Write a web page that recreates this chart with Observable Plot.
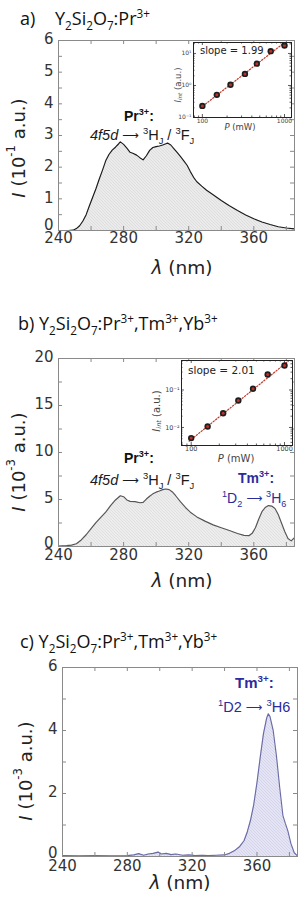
<!DOCTYPE html>
<html><head><meta charset="utf-8">
<script src="https://cdn.jsdelivr.net/npm/d3@7"></script>
<script src="https://cdn.jsdelivr.net/npm/@observablehq/plot@0.6"></script>
<style>
body{margin:0;background:#fff}
#wrap{position:relative;width:304px;height:903px;overflow:hidden;background:#fff}
#wrap svg{position:absolute;left:0;top:0}
</style></head><body><div id="wrap"></div>
<script>
// ---------- data ----------
const lamA = [240,246,249,251,253,255,257,259,261,263,265,267,269,271,273,275,277,278,280,282,284,286,288,290,292,294,296,298,300,302,304,306,307,309,311,313,315,317,319,321,323,325,328,331,335,340,345,350,355,360,365,370,375,380,385];
const intA = [0,0,0.01,0.06,0.15,0.3,0.5,0.78,1.05,1.32,1.62,1.9,2.2,2.4,2.54,2.63,2.74,2.8,2.72,2.6,2.47,2.43,2.38,2.3,2.23,2.36,2.53,2.62,2.65,2.67,2.7,2.74,2.76,2.7,2.58,2.46,2.33,2.2,2.06,1.86,1.68,1.54,1.4,1.27,1.13,0.95,0.78,0.63,0.49,0.37,0.27,0.19,0.12,0.08,0.05];
const lamB = [240,245,248,251,254,257,260,263,266,269,272,275,278,280,282,284,287,290,292,294,296,298,300,302,304,306,308,310,312,315,318,321,325,330,335,340,345,350,354,357,359,361,363,365,367,369,371,373,375,377,379,381,383,385];
const intB = [0.05,0.1,0.15,0.3,0.7,1.25,1.9,2.55,3.1,3.65,4.35,4.95,5.4,5.3,4.95,4.8,4.78,4.65,4.7,5.05,5.35,5.6,5.78,5.9,6.05,6.12,6.05,5.8,5.4,4.75,4.15,3.65,3.15,2.7,2.3,2.0,1.7,1.38,1.18,1.15,1.4,2.0,2.9,3.7,4.15,4.35,4.3,4.05,3.4,2.5,1.6,0.85,0.6,0.95];
const lamC = [240,250,260,270,280,284,287,290,293,296,299,301,304,307,310,314,318,322,326,330,335,340,343,346,349,352,354,356,358,360,362,364,366,367,368,370,372,374,376,377.5,379,381,383,385];
const intC = [0.03,0.02,0.03,0.02,0.03,0.05,0.09,0.04,0.08,0.1,0.14,0.08,0.1,0.06,0.08,0.04,0.05,0.03,0.04,0.03,0.04,0.05,0.1,0.18,0.3,0.5,0.78,1.15,1.65,2.35,3.15,3.9,4.4,4.53,4.45,4.0,3.2,2.2,1.3,1.05,0.82,0.4,0.12,0.02];

const powerA = [100,150,220,330,460,680,1000];
const intIntA = [0.23,0.51,1.05,2.3,4.8,11.8,17.8];
const fitPowerA = [95,1100];
const fitIntA = [0.2,26.5];
const powerB = [100,150,220,320,460,660,1000];
const intIntB = [0.0052,0.0106,0.024,0.0525,0.108,0.259,0.45];
const fitPowerB = [95,1100];
const fitIntB = [0.0043,0.59];

const xTickLabels = [240,280,320,360];
const xTickMarks = [240,260,280,300,320,340,360,380];
const yTickLabelsA = [1,2,3,4,5,6];
const yTickMarksA = [0,0.5,1,1.5,2,2.5,3,3.5,4,4.5,5,5.5,6];
const yTickLabelsB = [5,10,15,20];
const yTickMarksB = [0,2.5,5,7.5,10,12.5,15,17.5,20];
const yTickLabelsC = [2,4,6];
const yTickMarksC = [0,1,2,3,4,5,6];
const yZeroLabel = [0];

const insetXLabels = [100,1000];
const insetXMinor = [80,90,200,300,400,500,600,700,800,900];
const insetAYMajor = [0.1,1,10];
const insetAYLabels = ["10⁻¹","10⁰","10¹"];
const insetAYMinor = [0.2,0.3,0.4,0.5,0.6,0.7,0.8,0.9,2,3,4,5,6,7,8,9,20];
const insetBYMajor = [0.01,0.1];
const insetBYLabels = ["10⁻²","10⁻¹"];
const insetBYMinor = [0.004,0.005,0.006,0.007,0.008,0.009,0.02,0.03,0.04,0.05,0.06,0.07,0.08,0.09,0.2,0.3,0.4,0.5,0.6];

// ---------- helpers ----------
const wrap = document.getElementById("wrap");

function mainPlot(c) {
  const iw = c.fx1 - c.fx0, ih = c.fy1 - c.fy0;
  const rows = c.lam.map((x, i) => ({x, y: c.val[i]}));
  const svg = Plot.plot({
    width: 304, height: c.height,
    marginLeft: c.fx0, marginRight: 304 - c.fx1,
    marginTop: c.fy0 - c.top, marginBottom: c.top + c.height - c.fy1,
    style: {fontFamily: "DejaVu Sans", fontSize: "15px", color: "#333", background: "transparent", overflow: "visible"},
    x: {domain: [240, 385]},
    y: {domain: c.yDomain},
    marks: [
      Plot.areaY(rows, {x: "x", y: "y", fill: `url(#${c.pid})`}),
      Plot.lineY(rows, {x: "x", y: "y", stroke: c.stroke, strokeWidth: 1.15}),
      Plot.tickX(xTickMarks, {x: d => d, stroke: "#8a8a8a", insetTop: ih - 4}),
      Plot.tickX(xTickMarks, {x: d => d, stroke: "#8a8a8a", insetBottom: ih - 4}),
      Plot.tickY(c.yMarks, {y: d => d, stroke: "#8a8a8a", insetRight: iw - 4}),
      Plot.tickY(c.yMarks, {y: d => d, stroke: "#8a8a8a", insetLeft: iw - 4}),
      Plot.frame({stroke: "#8a8a8a"}),
      Plot.axisX(xTickLabels, {tickSize: 0, tickPadding: c.xPad, label: null, fill: "#333", fontSize: 15}),
      Plot.axisY(c.yLabels, {tickSize: 0, tickPadding: 5, label: null, fill: "#333", fontSize: 15, dy: -1}),
      Plot.axisY(yZeroLabel, {tickSize: 0, tickPadding: 5, label: null, fill: "#333", fontSize: 15, dy: c.zeroDy})
    ]
  });
  const defs = d3.select(svg).insert("defs", ":first-child");
  const p = defs.append("pattern").attr("id", c.pid).attr("patternUnits", "userSpaceOnUse").attr("width", 3).attr("height", 3);
  p.append("rect").attr("width", 3).attr("height", 3).attr("fill", c.bg);
  p.append("path").attr("d", "M0,0L3,3M-1,2L1,4M2,-1L4,1").attr("stroke", c.hatch).attr("stroke-width", 0.5);
  svg.style.position = "absolute";
  svg.style.left = "0px";
  svg.style.top = c.top + "px";
  wrap.appendChild(svg);
}

function insetPlot(c) {
  const iw = c.fx1 - c.fx0, ih = c.fy1 - c.fy0;
  const pts = c.P.map((x, i) => ({x, y: c.I[i]}));
  const fit = c.fitP.map((x, i) => ({x, y: c.fitI[i]}));
  const lab = new Map(c.yMajor.map((d, i) => [d, c.yLabels[i]]));
  const tk = "#333";
  const svg = Plot.plot({
    width: c.width, height: c.height,
    marginLeft: c.fx0 - c.left, marginRight: c.left + c.width - c.fx1,
    marginTop: c.fy0 - c.top, marginBottom: c.top + c.height - c.fy1,
    style: {fontFamily: "DejaVu Sans", fontSize: c.fs + "px", color: "#444", background: "transparent", overflow: "visible"},
    x: {type: "log", domain: c.xDomain},
    y: {type: "log", domain: c.yDomain},
    marks: [
      Plot.frame({fill: "white", stroke: null}),
      Plot.line(fit, {x: "x", y: "y", stroke: "#c0392b", strokeWidth: 1.2, strokeDasharray: "1.3,1.8", clip: "frame"}),
      Plot.dot(pts, {x: "x", y: "y", r: 3.2, fill: "#1e1e1e"}),
      Plot.dot(pts, {x: "x", y: "y", r: 1.5, fill: "#c0302a"}),
      Plot.tickX(insetXLabels, {x: d => d, stroke: tk, strokeWidth: 0.8, insetTop: ih - 3}),
      Plot.tickX(insetXLabels, {x: d => d, stroke: tk, strokeWidth: 0.8, insetBottom: ih - 3}),
      Plot.tickX(insetXMinor, {x: d => d, stroke: tk, strokeWidth: 0.8, insetTop: ih - 1.5}),
      Plot.tickX(insetXMinor, {x: d => d, stroke: tk, strokeWidth: 0.8, insetBottom: ih - 1.5}),
      Plot.tickY(c.yMajor, {y: d => d, stroke: tk, strokeWidth: 0.8, insetRight: iw - 3}),
      Plot.tickY(c.yMajor, {y: d => d, stroke: tk, strokeWidth: 0.8, insetLeft: iw - 3}),
      Plot.tickY(c.yMinor, {y: d => d, stroke: tk, strokeWidth: 0.8, insetRight: iw - 1.5}),
      Plot.tickY(c.yMinor, {y: d => d, stroke: tk, strokeWidth: 0.8, insetLeft: iw - 1.5}),
      Plot.frame({stroke: "#222", strokeWidth: 1}),
      Plot.axisX(insetXLabels, {tickSize: 0, tickPadding: 1, label: null, tickFormat: d => String(d), fill: "#444", fontSize: c.fs}),
      Plot.axisY(c.yMajor, {tickSize: 0, tickPadding: 2, label: null, tickFormat: d => lab.get(d), fill: "#444", fontSize: c.fs})
    ]
  });
  svg.style.position = "absolute";
  svg.style.left = c.left + "px";
  svg.style.top = c.top + "px";
  wrap.appendChild(svg);
}

// ---------- panels ----------
mainPlot({top: 30, height: 240, fx0: 58, fx1: 294, fy0: 40, fy1: 230, yDomain: [0, 6],
  yLabels: yTickLabelsA, yMarks: yTickMarksA, lam: lamA, val: intA, zeroDy: -5,
  stroke: "#1a1a1a", pid: "hatchA", bg: "#ebebeb", hatch: "#d0d0d0", xPad: 2});
mainPlot({top: 345, height: 225, fx0: 58, fx1: 294, fy0: 358, fy1: 546, yDomain: [0, 20],
  yLabels: yTickLabelsB, yMarks: yTickMarksB, lam: lamB, val: intB, zeroDy: -3,
  stroke: "#555", pid: "hatchB", bg: "#ededed", hatch: "#d2d2d2", xPad: 3});
mainPlot({top: 655, height: 230, fx0: 62, fx1: 297, fy0: 667, fy1: 856, yDomain: [0, 6],
  yLabels: yTickLabelsC, yMarks: yTickMarksC, lam: lamC, val: intC, zeroDy: -3,
  stroke: "#6a6aa6", pid: "hatchC", bg: "#e4e4f4", hatch: "#c4c4e2", xPad: 4});

insetPlot({left: 168, top: 34, width: 132, height: 100, fx0: 193, fx1: 291, fy0: 42, fy1: 117,
  xDomain: [78, 1217], yDomain: [0.1, 22], P: powerA, I: intIntA, fitP: fitPowerA, fitI: fitIntA,
  yMajor: insetAYMajor, yLabels: insetAYLabels, yMinor: insetAYMinor, fs: 6});
insetPlot({left: 150, top: 352, width: 150, height: 106, fx0: 181, fx1: 292, fy0: 360, fy1: 445,
  xDomain: [78.7, 1218], yDomain: [0.0033, 0.612], P: powerB, I: intIntB, fitP: fitPowerB, fitI: fitIntB,
  yMajor: insetBYMajor, yLabels: insetBYLabels, yMinor: insetBYMinor, fs: 6.5});

// ---------- text overlay ----------
const ov = d3.select(wrap).append("svg").attr("width", 304).attr("height", 903)
  .style("position", "absolute").style("left", "0px").style("top", "0px").style("pointer-events", "none");

function txt(x, y, parts, o = {}) {
  const size = o.size || 14;
  const t = ov.append("text").attr("x", x).attr("y", y)
    .attr("font-family", o.family || "DejaVu Sans").attr("font-size", size)
    .attr("fill", o.fill || "#111").attr("text-anchor", o.anchor || "start");
  if (o.weight) t.attr("font-weight", o.weight);
  if (o.rotate) t.attr("transform", `rotate(${o.rotate},${x},${y})`);
  if (o.central) t.attr("dominant-baseline", "central");
  let cur = 0;
  for (const [s, m = ""] of parts) {
    const tags = m.split(" ");
    const sp = t.append("tspan").text(s);
    let off = 0, fs = size;
    if (tags.includes("sup")) { off = -0.4 * size; fs = 0.65 * size; }
    if (tags.includes("sub")) { off = 0.27 * size; fs = 0.65 * size; }
    if (tags.includes("i")) sp.attr("font-style", "italic");
    if (tags.includes("arrow")) { sp.attr("font-family", "DejaVu Sans").attr("font-weight", "normal"); fs = 0.8 * size; off = -0.06 * size; }
    sp.attr("font-size", fs);
    if (off !== cur) { sp.attr("dy", off - cur); cur = off; }
  }
}

const titleFont = {family: "Open Sans", size: 18, fill: "#111"};
const formula = [["Y"],["2","sub"],["Si"],["2","sub"],["O"],["7","sub"],[":Pr"],["3+","sup"]];
const formula3 = formula.concat([[",Tm"],["3+","sup"],[",Yb"],["3+","sup"]]);
txt(20, 25, [["a)"]], titleFont);
txt(55, 25, formula, titleFont);
txt(18, 330, [["b) "]].concat(formula3), titleFont);
txt(20, 648, [["c) "]].concat(formula3), titleFont);

// annotations
const prLabel = [["Pr"],["3+","sup"],[":"]];
const prTrans = [["4f5d","i"],[" "],["⟶","arrow"],[" "],["3","sup"],["H"],["J","sub"],[" / "],["3","sup"],["F"],["J","sub"]];
const ann = {family: "Liberation Sans", size: 14.5, fill: "#1a1a1a"};
txt(124, 121, prLabel, {family: "Liberation Sans", size: 14, weight: "bold", fill: "#111"});
txt(90, 140, prTrans, ann);
txt(124, 463, prLabel, {family: "Liberation Sans", size: 14, weight: "bold", fill: "#111"});
txt(90, 485, prTrans, ann);
const blue = "#2b2b9c";
txt(238, 483, [["Tm"],["3+","sup"],[":"]], {family: "Liberation Sans", size: 14, weight: "bold", fill: blue});
txt(222, 503, [["1","sup"],["D"],["2","sub"],[" "],["⟶","arrow"],[" "],["3","sup"],["H"],["6","sub"]], {family: "Liberation Sans", size: 14, fill: blue});
txt(235, 688, [["Tm"],["3+","sup"],[":"]], {family: "Liberation Sans", size: 15, weight: "bold", fill: blue});
txt(218, 712, [["1","sup"],["D2 "],["⟶","arrow"],[" "],["3","sup"],["H6"]], {family: "Liberation Sans", size: 14.5, fill: blue});

// axis titles
const yl = e => [["I","i"],[" (10"],[e,"sup"],[" a.u.)"]];
const yOpt = {size: 18, fill: "#222", anchor: "middle", rotate: -90, central: true};
txt(18, 148, yl("-1"), yOpt);
txt(18, 462, yl("-3"), yOpt);
txt(25, 771, yl("-3"), yOpt);
const xl = [["λ","i"],[" (nm)"]];
const xOpt = {size: 18.5, fill: "#222", anchor: "middle"};
txt(182, 274, xl, xOpt);
txt(182, 587, xl, xOpt);
txt(180, 889, xl, xOpt);

// inset texts
txt(200, 53.5, [["slope = 1.99"]], {size: 10, fill: "#222"});
txt(178, 85, [["I","i"],["int","sub i"],[" (a.u.)"]], {size: 8.5, fill: "#444", anchor: "middle", rotate: -90, central: true});
txt(240, 130, [["P","i"],[" (mW)"]], {size: 8.5, fill: "#444", anchor: "middle"});
txt(188, 374, [["slope = 2.01"]], {size: 10.5, fill: "#222"});
txt(156, 411, [["I","i"],["int","sub i"],[" (a.u.)"]], {size: 10, fill: "#444", anchor: "middle", rotate: -90, central: true});
txt(236, 462, [["P","i"],[" (mW)"]], {size: 10, fill: "#444", anchor: "middle"});
</script></body></html>
